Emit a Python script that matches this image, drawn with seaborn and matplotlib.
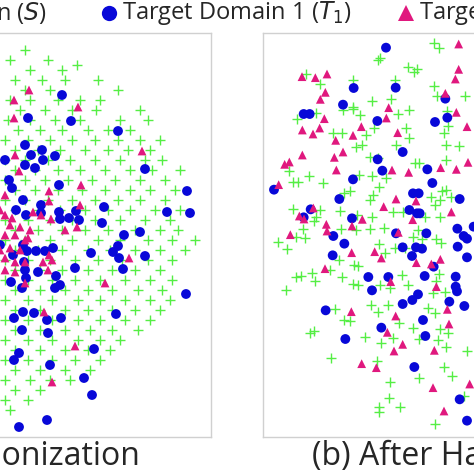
import numpy as np
import pandas as pd
import matplotlib
matplotlib.use("Agg")
import matplotlib.pyplot as plt
from matplotlib.lines import Line2D
import seaborn as sns

sns.set_theme(style="white")
plt.rcParams["font.family"] = ["Open Sans", "DejaVu Sans"]

# ── data (pixel-like units, y grows downward) ──
# (a) before harmonization
src_rows_a = {
    50: [25], 60: [10, 48], 65: [77], 70: [30, 62], 80: [15, 42, 65, 98],
    90: [25, 50, 118], 100: [10, 30, 58, 80, 100], 110: [20, 45, 72, 96, 140],
    120: [8, 30, 55, 80, 120, 148], 130: [18, 40, 62, 88, 108, 130],
    140: [5, 28, 50, 72, 95, 118, 140, 160], 150: [15, 38, 60, 85, 108, 128, 150],
    160: [5, 25, 48, 70, 95, 120, 145, 162], 170: [15, 35, 58, 80, 105, 130, 152, 180],
    180: [5, 25, 45, 68, 92, 115, 140, 165], 190: [15, 35, 58, 82, 105, 130, 150, 175],
    200: [5, 25, 48, 72, 95, 118, 140, 165], 210: [15, 38, 60, 85, 108, 130, 155, 180],
    220: [5, 28, 50, 72, 95, 120, 145, 170], 230: [15, 38, 62, 85, 108, 135, 160, 178],
    240: [5, 25, 50, 72, 98, 120, 148, 172, 195], 250: [15, 38, 62, 88, 110, 135, 160, 185],
    260: [5, 28, 50, 75, 98, 122, 148, 172], 270: [15, 40, 62, 88, 112, 135, 160],
    280: [5, 28, 52, 75, 100, 125, 150, 172], 290: [15, 40, 65, 88, 112, 138, 162],
    300: [5, 28, 52, 78, 100, 125, 150, 170], 310: [15, 40, 65, 88, 112, 135, 160],
    320: [5, 28, 52, 78, 100, 125, 150], 330: [15, 40, 65, 90, 112, 138],
    340: [5, 28, 52, 78, 100, 120], 350: [15, 40, 65, 88, 110],
    360: [5, 28, 52, 75, 100], 370: [15, 40, 65, 90], 380: [5, 30, 50, 70],
    390: [15, 40], 400: [5, 28], 410: [10],
}
t1_a = [(62, 95), (28, 118), (71, 121), (118, 131), (25, 145), (31, 155), (42, 150),
        (5, 160), (25, 165), (43, 160), (55, 156), (35, 168), (145, 169), (9, 180),
        (12, 188), (59, 185), (23, 200), (41, 205), (16, 210), (41, 213), (26, 215),
        (187, 191), (190, 213), (104, 207), (59, 212), (76, 211), (60, 219), (69, 218),
        (79, 220), (167, 212), (102, 223), (140, 232), (124, 235), (118, 246), (0, 245),
        (23, 245), (27, 251), (36, 251), (45, 251), (53, 248), (13, 255), (24, 262),
        (75, 268), (113, 252), (145, 256), (119, 258), (91, 253), (25, 270), (38, 272),
        (56, 276), (123, 269), (26, 278), (60, 285), (186, 294), (11, 282), (22, 288),
        (55, 288), (34, 313), (14, 318), (23, 312), (47, 320), (61, 318), (116, 314),
        (22, 330), (48, 333), (94, 349), (19, 353), (14, 360), (50, 365), (84, 378),
        (92, 395), (47, 420), (19, 427)]
t2_a = [(29, 90), (14, 100), (78, 107), (14, 118), (15, 155), (142, 151), (19, 171),
        (81, 185), (49, 191), (49, 201), (80, 205), (33, 212), (41, 215), (51, 219),
        (5, 195), (0, 210), (65, 230), (77, 227), (5, 215), (10, 225), (5, 235),
        (15, 235), (25, 240), (0, 250), (10, 248), (20, 250), (5, 258), (15, 262),
        (25, 262), (5, 270), (15, 272), (28, 238), (30, 230), (52, 260), (43, 262),
        (49, 255), (25, 283), (48, 270), (129, 258), (105, 283), (44, 312), (75, 346),
        (52, 382), (20, 227), (12, 218)]

# (b) after harmonization (read at 3x zoom of the right half)
src_b_zoom = [
    (590, 130), (607, 143), (423, 180), (430, 175), (512, 200), (541, 208), (531, 216),
    (208, 222), (250, 252), (349, 240), (473, 241), (592, 259), (601, 289), (683, 288),
    (461, 297), (406, 302), (349, 320), (348, 328), (318, 329), (237, 338), (179, 357),
    (369, 346), (484, 342), (517, 329), (630, 332), (411, 384), (508, 384), (620, 400),
    (634, 379), (289, 400), (314, 400), (386, 405), (517, 415), (374, 436), (357, 441),
    (477, 436), (628, 435), (665, 437), (400, 472), (424, 473), (533, 490), (547, 490),
    (157, 513), (628, 480), (168, 545), (184, 546), (215, 527), (257, 549), (365, 524),
    (405, 527), (446, 535), (321, 578), (338, 574), (427, 562), (407, 584), (398, 600),
    (615, 573), (627, 571), (582, 591), (610, 601), (641, 590), (167, 628), (249, 630),
    (236, 651), (309, 633), (359, 645), (405, 650), (469, 636), (497, 636), (595, 615),
    (565, 650), (608, 651), (198, 688), (232, 663), (123, 726), (150, 748), (177, 712),
    (204, 714), (312, 688), (356, 690), (399, 688), (441, 684), (543, 690), (555, 718),
    (597, 718), (612, 730), (425, 733), (444, 760), (474, 745), (503, 744), (527, 712),
    (352, 795), (363, 799), (307, 781), (279, 810), (225, 818), (178, 830), (193, 828),
    (316, 830), (349, 852), (363, 854), (428, 856), (460, 864), (496, 826), (513, 854),
    (606, 823), (596, 842), (148, 871), (235, 842), (293, 926), (322, 960), (340, 963),
    (402, 915), (423, 935), (454, 916), (589, 878), (624, 875), (574, 925), (593, 940),
    (485, 968), (528, 985), (610, 988), (633, 1000), (232, 993), (220, 1000), (385, 1010),
    (433, 1028), (468, 1015), (546, 1018), (603, 1020), (282, 1075), (420, 1082),
    (626, 1040), (690, 1052), (645, 1128), (546, 1133), (460, 1145), (456, 1195),
    (490, 1220), (427, 1222), (427, 1236), (594, 1272), (620, 1102), (682, 1187)]
t1_b_zoom = [
    (447, 143), (350, 264), (476, 263), (318, 314), (200, 342), (218, 342), (421, 363),
    (594, 366), (631, 353), (625, 296), (497, 456), (422, 478), (436, 512), (571, 508),
    (586, 549), (348, 538), (111, 569), (307, 597), (528, 580), (545, 580), (517, 630),
    (540, 640), (548, 640), (668, 597), (221, 628), (200, 652), (345, 655), (289, 708),
    (322, 731), (287, 766), (477, 700), (497, 742), (537, 742), (555, 746), (525, 768),
    (568, 700), (661, 686), (680, 708), (690, 716), (662, 740), (690, 772), (710, 680),
    (590, 800), (563, 828), (454, 831), (394, 831), (405, 871), (543, 883), (526, 900),
    (497, 912), (656, 830), (656, 860), (660, 874), (637, 905), (682, 918), (266, 931),
    (558, 960), (565, 1008), (433, 983), (325, 1017), (532, 1101), (668, 1198), (690, 1262)]
t2_b_zoom = [
    (665, 132), (665, 208), (655, 237), (195, 230), (235, 233), (270, 222), (250, 298),
    (265, 277), (625, 280), (262, 356), (196, 390), (228, 402), (248, 384), (373, 380),
    (448, 354), (455, 323), (658, 337), (690, 380), (296, 421), (348, 406), (482, 398),
    (318, 456), (292, 472), (196, 465), (157, 486), (143, 493), (298, 510), (465, 510),
    (515, 517), (611, 503), (658, 508), (693, 487), (125, 554), (229, 624), (187, 648),
    (201, 657), (268, 673), (270, 693), (160, 704), (345, 678), (376, 658), (440, 620),
    (477, 597), (537, 603), (527, 659), (643, 636), (484, 697), (413, 755), (433, 774),
    (344, 758), (538, 788), (610, 778), (583, 792), (264, 806), (461, 845), (598, 860),
    (631, 928), (343, 935), (476, 948), (636, 972), (451, 997), (471, 1053), (497, 1033),
    (592, 1051), (374, 1091), (418, 1103), (588, 1163), (698, 1152), (621, 1233)]

domains = ["Source Domain ($S$)", "Target Domain 1 ($T_1$)", "Target Domain 2 ($T_2$)"]
colors = ["#55EE44", "#0808D8", "#E0187E"]
markers = ["+", "o", "^"]
sizes = [45, 50, 40]


def frame(pts, dom):
    return pd.DataFrame({"x": [p[0] for p in pts], "y": [p[1] for p in pts], "domain": dom})


src_a = [(x, y) for y, xs in src_rows_a.items() for x in xs]
df_a = pd.concat([frame(src_a, domains[0]), frame(t1_a, domains[1]), frame(t2_a, domains[2])])


def unzoom(pts):
    return [(237 + x / 3, y / 3) for x, y in pts]


df_b = pd.concat([frame(unzoom(src_b_zoom), domains[0]),
                  frame(unzoom(t1_b_zoom), domains[1]),
                  frame(unzoom(t2_b_zoom), domains[2])])

W = H = 474
fig = plt.figure(figsize=(4.74, 4.74), dpi=100)
ax_a = fig.add_axes([-60 / W, 1 - 437 / H, 271 / W, 404 / H])
ax_b = fig.add_axes([263 / W, 1 - 437 / H, 270 / W, 404 / H])

for ax, df, xlim in [(ax_a, df_a, (-60, 211)), (ax_b, df_b, (263, 533))]:
    for dom, c, m, s in zip(domains, colors, markers, sizes):
        sub = df[df["domain"] == dom]
        kw = dict(linewidth=1.0) if m == "+" else dict(edgecolor="none")
        sns.scatterplot(data=sub, x="x", y="y", ax=ax, color=c, marker=m, s=s, **kw)
    ax.set_xlim(*xlim)
    ax.set_ylim(437, 33)
    ax.set_xticks([])
    ax.set_yticks([])
    ax.set_xlabel("")
    ax.set_ylabel("")
    for sp in ax.spines.values():
        sp.set_color("#D0D0D0")
        sp.set_linewidth(1.0)

# legend row along the top (cropped at both sides like the reference)
legend_y = 1 - 13 / H
fig.text(47 / W, legend_y, domains[0], ha="right", va="center", fontsize=17)
for (mx, tx), lab, c, m in [((109, 122), domains[1], colors[1], "o"),
                            ((406, 419), domains[2], colors[2], "^")]:
    fig.add_artist(Line2D([mx / W], [legend_y], transform=fig.transFigure, linestyle="none",
                          marker=m, color=c, markersize=11, markeredgewidth=0))
    fig.text(tx / W, legend_y, lab, ha="left", va="center", fontsize=17)

fig.text(140 / W, 1 - 457 / H, "(a) Before Harmonization", ha="right", va="center", fontsize=23)
fig.text(312 / W, 1 - 457 / H, "(b) After Harmonization", ha="left", va="center", fontsize=23)

fig.savefig("out.png", dpi=100, facecolor="white")
